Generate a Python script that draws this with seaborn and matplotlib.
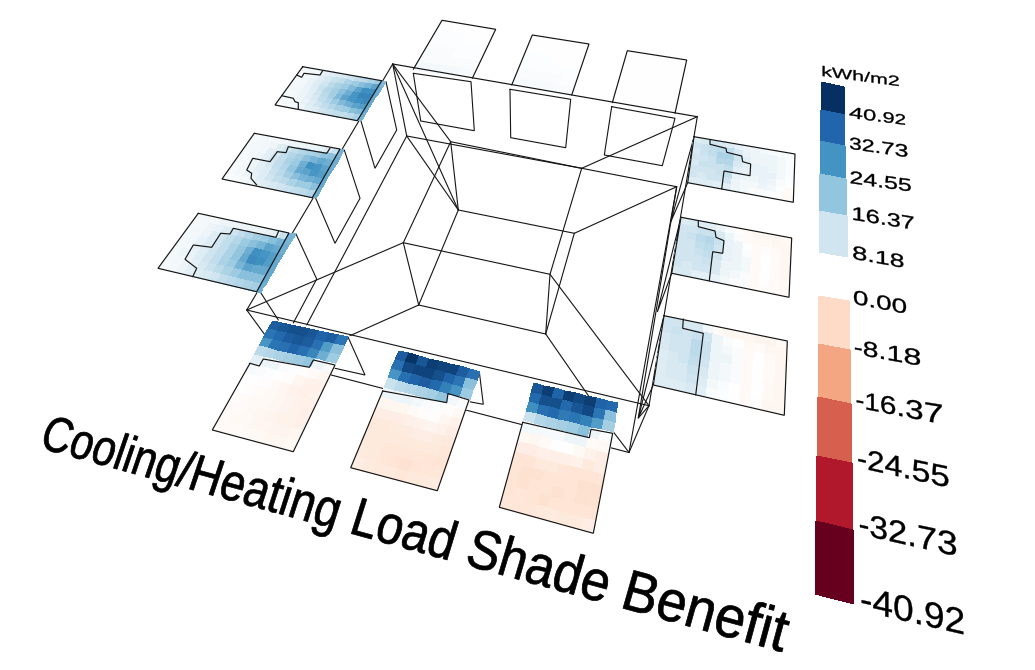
"""
Cooling/Heating load shade benefit drawn on a perspective view of a room.
Every panel is a seaborn heatmap that gets warped onto its quad in the picture.
"""

import numpy as np
import matplotlib
matplotlib.use("Agg")
import matplotlib.pyplot as plt
import seaborn as sns
from matplotlib.colors import LinearSegmentedColormap, ListedColormap
from matplotlib.font_manager import FontProperties
from matplotlib.patheffects import AbstractPathEffect
from matplotlib.path import Path
from matplotlib.textpath import TextPath
from matplotlib.transforms import IdentityTransform, Transform

# -----------------------------
# 1. Values (kWh/m2), row 0 is the row next to the wall
# -----------------------------
south_1 = [
    [34, 35, 36, 36, 35, 33, 34, 30],
    [30, 32, 34, 35, 34, 31, 23, 17],
    [24, 30, 31, 33, 31, 27, 20, 15],
    [11, 12, 13, 14, 15, 16, 3, 1.5],
    [5, 3, 3, 1, 0.5, -0.5, -1, -2],
    [1.5, 1, 0.5, 0, -0.5, -2, -3, -3],
    [0, 0, -0.5, -1, -2, -3, -3.5, -3],
    [0, -0.5, -1, -1.5, -2, -2.5, -3, -3.5],
    [-0.5, -1, -1.5, -1.5, -2, -2.5, -3, -3.5],
    [-1, -1, -1.5, -2, -2.5, -3, -3, -3.5],
    [-1, -1.5, -1.5, -2, -2, -2.5, -2.5, -2],
    [-1, -1, -1, -1.5, -1.5, -2, -2, -1.5],
]
south_2 = [
    [34, 40, 35, 39, 38, 38, 34, 31],
    [31, 37, 38, 38, 36, 33, 30, 17],
    [24, 31, 33, 34, 32, 28, 24, 15],
    [9, 11, 12, 13, 14, 16, 2.5, 1],
    [3, 3, 3.5, 2, 1, 0.5, -0.5, -1.5],
    [-2, -2, -2, -1, -0.5, -0.5, -2, -3],
    [-4, -4, -4, -3.5, -3, -2.5, -3, -4],
    [-5, -5, -4.5, -4.5, -4, -4, -4.5, -5],
    [-5, -5, -5, -5, -5, -5, -5, -5.5],
    [-5, -5, -5.5, -5.5, -5.5, -5.5, -6, -6],
    [-4.5, -5, -5.5, -6, -6.5, -6, -5.5, -5.5],
    [-4, -4.5, -5, -5, -5.5, -5, -5, -4.5],
]
south_3 = [
    [35, 39, 33, 39, 37, 39, 33, 32],
    [32, 36, 36, 32, 35, 37, 30, 17],
    [25, 31, 32, 29, 30, 28, 23, 14],
    [9, 12, 13, 14, 15, 17, 3, 0.5],
    [2, 2, 1.5, 1.5, 3, 3, -1, -1.5],
    [-1.5, -2, -1, 0, 0, -1.5, -3, -4],
    [-4, -4, -3.5, -3.5, -3.5, -3, -5, -4],
    [-6, -6, -5, -5, -5.5, -6, -6, -6],
    [-6, -6.5, -6.5, -6, -6, -6, -7, -7],
    [-6, -6.5, -6, -6, -6.5, -6, -7, -6.5],
    [-6, -5.5, -6, -6.5, -6, -6, -6, -6],
    [-5.5, -5.5, -5.5, -5, -4.5, -5, -5, -4],
]
west_1 = [
    [15, 22, 25, 27, 26, 23, 18, 13],
    [13, 19, 25, 27, 25, 22, 17, 11],
    [11, 17, 22, 24, 24, 20, 15, 10],
    [10, 15, 18, 20, 22, 18, 14, 10],
    [8, 13, 15, 17, 18, 15, 12, 9],
    [7, 10, 13, 14, 14, 12, 10, 8],
    [6, 9, 11, 12, 11, 10, 8, 6],
    [5, 7, 8, 9, 8, 7, 6, 5],
    [4, 5, 6, 6, 5, 5, 4, 3],
    [2.5, 3, 4, 4, 3.5, 3, 2.5, 2],
    [2, 2, 2.5, 2.5, 2.5, 2, 1.5, 1.5],
    [2, 1.5, 2, 2, 2, 1.5, 1.5, 1],
]
west_2 = [
    [9, 17, 20, 22, 23, 21, 17, 12],
    [6, 16, 21, 24, 24, 20, 15, 11],
    [4, 14, 19, 25, 22, 19, 15, 10],
    [3, 13, 17, 20, 21, 17, 13, 9],
    [3, 12, 14, 15, 16, 14, 11, 8],
    [3, 10, 12, 13, 12, 11, 10, 7],
    [3, 8, 10, 10, 10, 9, 8, 6],
    [2.5, 6, 7, 8, 7, 6, 6, 5],
    [2.5, 3, 5, 5, 5, 5, 4, 3],
    [2, 2.5, 2.5, 3, 3, 3, 3, 2],
    [2, 2, 2, 2, 2, 2.5, 2, 1.5],
    [1.5, 1.5, 2, 1.5, 1.5, 1.5, 1.5, 1],
]
west_3 = [
    [9, 19, 21, 23, 23, 21, 17, 14],
    [5, 17, 22, 24, 25, 21, 17, 13],
    [4, 15, 19, 25, 26, 22, 17, 12],
    [3, 14, 17, 20, 21, 19, 15, 11],
    [3, 12, 15, 16, 16, 15, 13, 10],
    [3, 10, 12, 13, 13, 13, 11, 8],
    [3, 8, 10, 10, 10, 10, 9, 7],
    [3, 6, 8, 8, 8, 8, 7, 6],
    [3, 4, 6, 6, 6, 6, 5, 5],
    [2, 3, 3, 4, 4, 4, 3.5, 3],
    [2, 2, 2.5, 2.5, 2.5, 3, 2.5, 2],
    [2, 1.5, 2, 2, 2, 2, 2, 1.5],
]
west_1_strip = [[18, 20, 21, 21, 21, 21, 20, 19]]
west_2_strip = [[19, 20, 20, 21, 21, 21, 20, 20]]
west_3_strip = [[19, 20, 21, 21, 21, 21, 20, 20]]
east_1 = [
    [6, 8, 7, 8, 7, 8, 8, 6],
    [7, 9, 9, 8, 9, 8, 7, 6],
    [8, 10, 10, 9, 9, 8, 8, 6],
    [7, 11, 13, 12, 9, 9, 8, 5],
    [6, 10, 13, 12, 10, 10, 8, 5],
    [4, 7, 8, 7, 5, 4, 3, 3],
    [3, 4, 5, 5, 4, 3, 2, 2],
    [3, 3, 3, 4, 4, 3, 2, 1],
    [2, 3, 3, 4, 4, 4, 3, 1],
    [1.5, 3, 3, 3, 4, 3, 2, 0.5],
    [1, 2, 2, 2, 2, 1, 0.5, -0.5],
    [1, 1, 1, 1, 0.5, 0, -1, -1.5],
]
east_2 = [
    [6, 8, 8, 8, 8, 8, 8, 7],
    [7, 8, 9, 8, 8, 8, 7, 7],
    [6, 9, 11, 10, 9, 8, 8, 5],
    [5, 9, 12, 11, 10, 9, 8, 5],
    [3, 7, 9, 8, 8, 7, 7, 4],
    [1, 3, 4, 4, 4, 3, 3, 2],
    [-0.5, 1, 3, 3, 3, 3, 2, 1],
    [-1, -1, 0, 1, 2, 2, 1, 1],
    [-2, -1.5, -1, -1, -1, -1, -1, -1],
    [-2, -1.5, -0.5, 0, 0, 0, 0, -0.5],
    [-2, -2, -1, -1, -1, -1, -1, -1],
    [-1.5, -2, -2, -2, -2, -2, -1.5, -1.5],
]
east_3 = [
    [8, 8, 7, 7, 6, 6, 6, 6],
    [8, 9, 8, 8, 7, 7, 7, 6],
    [7, 8, 8, 8, 8, 7, 7, 6],
    [7, 9, 11, 11, 10, 9, 8, 7],
    [2, 8, 9, 9, 8, 7, 6, 5],
    [-1, 3, 3, 3, 3, 3, 2, 1],
    [-2, 1, 2, 3, 2, 2, 1, 0.5],
    [-2, 0, 1, 1, 1, 1, 0, 0],
    [-2, -1.5, -1, -1, -1, -1, -1, -1],
    [-2.5, -1, 0, 0, 0, 0, 0, -0.5],
    [-2.5, -2, -1, -1, -1, -1.5, -1.5, -2],
    [-1.5, -2, -2, -2, -2, -2, -2, -2],
]
north_1 = [
    [2, 2, 2, 1.5],
    [1, 1, 1, 1],
    [1, 1, 0.5, 0.5],
    [0.5, 0.5, 0.5, 0.5],
    [0.5, 0.5, 0, 0],
    [0.5, 0, 0, 0],
]
north_2 = [
    [1.5, 1.5, 1.5, 1],
    [1, 1, 1, 0.5],
    [0.5, 0.5, 0.5, 0.5],
    [0.5, 0.5, 0, 0],
    [0, 0, 0, 0],
    [0, 0, 0, 0],
]
north_3 = [
    [0, 0, 0, 0],
    [0, -0.2, 0, 0],
    [0, 0, -0.2, 0],
    [0, 0, 0, 0],
    [0, 0, 0, 0],
    [0, 0, 0, 0],
]

blue_labels = ["40.92", "32.73", "24.55", "16.37", "8.18"]
red_labels = ["0.00", "-8.18", "-16.37", "-24.55", "-32.73", "-40.92"]
blue_steps = ["#053061", "#2166AC", "#4393C3", "#92C5DE", "#D1E5F0"]
red_steps = ["#FDDBC7", "#F4A582", "#D6604D", "#B2182B", "#67001F"]
unit_label = "kWh/m2"
title_label = "Cooling/Heating Load Shade Benefit"
scale_max = 40.92

# -----------------------------
# 2. Layout in picture pixels
# -----------------------------
# quads: (0,0) corner, (cols,0) corner, (cols,rows) corner, (0,rows) corner
panels = [
    (south_1, [(272.7, 320.7), (348.3, 337.3), (293.3, 451.7), (212.3, 430)]),
    (south_2, [(399, 350.7), (480, 371.7), (437.3, 490.7), (350.7, 467.7)]),
    (south_3, [(534, 383.3), (618.3, 403.3), (593.3, 533.3), (499.3, 507.3)]),
    (west_1, [(381.7, 80.7), (357.3, 120.7), (275, 105), (302.7, 66.7)]),
    (west_2, [(340, 149), (312.3, 197.7), (222, 179), (254.3, 133.3)]),
    (west_3, [(289, 233), (256.7, 291.7), (158, 268.3), (198.3, 213.3)]),
    (west_1_strip, [(386, 81.7), (361, 121.2), (357.3, 120.7), (381.7, 80.7)]),
    (west_2_strip, [(344.3, 150), (315.7, 198.3), (312.3, 197.7), (340, 149)]),
    (west_3_strip, [(296, 234), (260.7, 292.7), (256.7, 291.7), (289, 233)]),
    (east_1, [(694, 136.7), (687.7, 182.7), (793.3, 202.3), (795, 154)]),
    (east_2, [(681, 217.3), (671.7, 273.3), (789, 297.3), (791.7, 238)]),
    (east_3, [(664, 315.7), (653.3, 385), (784.3, 415.3), (787.3, 341)]),
    (north_1, [(413.3, 69.3), (472.3, 78.3), (495.7, 29.3), (442, 20.3)]),
    (north_2, [(511.7, 85), (571.7, 95), (589, 44), (532.3, 35)]),
    (north_3, [(612.3, 102.7), (675, 113.3), (686.7, 60), (627.3, 50.7)]),
]

corner_a, corner_b, corner_c, corner_d = (392.7, 64), (697.3, 116.7), (246.7, 310), (649, 405.7)
mid_a, mid_b, mid_c = (406.7, 136), (450.7, 141.7), (581.7, 168.3)
ceil_1, ceil_2, ceil_3 = (403.3, 242.7), (418.7, 305), (458.3, 210)
ceil_4, ceil_5, ceil_6 = (574.3, 233.3), (550, 274.3), (545.7, 334)
side_1, side_2, floor_end = (676.7, 186.7), (638.3, 418), (629, 452.5)

panel_lines = [
    [corner_a, corner_b],
    # south
    [(250, 363.3), (212.3, 430), (293.3, 451.7), (335, 365), (313.3, 360), (309.3, 367.3),
     (263.3, 359), (259.3, 366), (250, 363.3)],
    [(382.7, 391), (350.7, 467.7), (437.3, 490.7), (469, 400), (448, 393.5), (446.7, 402.6), (382.7, 391)],
    [(522.7, 422.3), (499.3, 507.3), (593.3, 533.3), (612.7, 433.3), (591, 429.3), (589.3, 437.7), (522.7, 422.3)],
    # west
    [(302.7, 66.7), (381.7, 80.7), (357.3, 120.7), (275, 105), (302.7, 66.7)],
    [(296.7, 75), (301.7, 77.3), (304, 73.3), (320, 75), (322.7, 70.7)],
    [(281.7, 95.7), (293.3, 98.3), (295, 101.7), (298.3, 102.7), (298.3, 109.3)],
    [(254.3, 133.3), (340, 149), (312.3, 197.7), (222, 179), (254.3, 133.3)],
    [(256.7, 185), (251, 178.3), (251.7, 173.3), (246.7, 170), (252.7, 158.3), (270, 161.7),
     (277.3, 151.7), (286, 152.7), (288.3, 146.7), (326.7, 153.3), (330, 148.3)],
    [(198.3, 213.3), (289, 233), (256.7, 291.7), (158, 268.3), (198.3, 213.3)],
    [(192.7, 276.7), (196.7, 268.3), (185, 259.3), (193.3, 245), (211.7, 247.3), (220.7, 233.3),
     (230, 234), (233.3, 228.3), (276, 237.3), (278.7, 231)],
    # east
    [(694, 136.7), (795, 154), (793.3, 202.3), (687.7, 182.7), (694, 136.7)],
    [(710, 140), (710, 144.3), (726, 148.3), (726.7, 152.3), (741.7, 156), (742.7, 161.7),
     (750.7, 164), (750, 175.7), (724, 171), (721.7, 189)],
    [(681, 217.3), (791.7, 238), (789, 297.3), (671.7, 273.3), (681, 217.3)],
    [(698.3, 221), (698.3, 226.7), (715, 231), (716, 237.3), (724, 240.7), (722.7, 253.3),
     (712.7, 251.7), (709.3, 280.7)],
    [(664, 315.7), (787.3, 341), (784.3, 415.3), (653.3, 385), (664, 315.7)],
    [(683.3, 319), (682.7, 328.3), (703.3, 333.3), (695.7, 395)],
    # north
    [(413.3, 69.3), (442, 20.3), (495.7, 29.3), (472.3, 78.3)],
    [(511.7, 85), (532.3, 35), (589, 44), (571.7, 95)],
    [(612.3, 102.7), (627.3, 50.7), (686.7, 60), (675, 113.3)],
]

room_lines = [
    [corner_a, corner_c], [corner_c, corner_d], [corner_b, corner_d],
    [corner_a, mid_a], [corner_a, mid_b], [corner_a, ceil_3], [mid_a, ceil_3],
    [mid_b, ceil_3], [mid_b, ceil_1], [mid_a, mid_c], [mid_b, mid_c], [mid_c, corner_b],
    [mid_a, (306.7, 325)], [corner_c, ceil_1], [ceil_1, ceil_2], [ceil_2, ceil_3],
    [ceil_2, (350, 335.7)], [ceil_3, ceil_4], [ceil_1, ceil_5], [ceil_2, ceil_6],
    [mid_c, side_1], [ceil_4, side_1], [mid_c, ceil_5], [ceil_4, ceil_6], [ceil_5, ceil_6],
    [ceil_5, corner_d], [ceil_6, (590, 398)], [side_1, side_2], [side_2, corner_d],
    [corner_c, (265, 335)], [(262, 357), floor_end], [floor_end, corner_d],
    [floor_end, side_1], [floor_end, (612.7, 431)],
    # window reveals west
    [(386, 81.7), (396.7, 130), (375, 168.3), (361, 121.2)],
    [(344.3, 150), (360, 198.3), (335, 243.3), (315.7, 198.3)],
    [(296, 234), (316.7, 279), (293.3, 323)], [(260.7, 292.7), (278.3, 320)],
    # window reveals south
    [(348, 337), (365, 375), (335, 368.3)],
    [(479.3, 371.7), (483.3, 404.3), (469.3, 401.7)],
    # window reveals east
    [(694, 137), (670.7, 222), (687.7, 182.7)],
    [(681, 217.3), (657.3, 312), (671.7, 273.3)],
    [(664, 315.7), side_2, (653.3, 385)],
    # window reveals north
    [(413.3, 73.3), (420.7, 121), (474.3, 130.7), (471, 81.7), (413.3, 73.3)],
    [(510, 89.3), (510.7, 137.7), (565.7, 147.7), (570.7, 99.3), (510, 89.3)],
    [(611.7, 106.7), (604.3, 155), (662.3, 165.7), (675, 118.3), (611.7, 106.7)],
]

blue_bar_quad = [(821, 82), (844, 87), (848, 257), (819, 252)]
red_bar_quad = [(819, 296), (849, 301), (854, 604), (815, 594)]

# text quads: base left, base right, top right, top left
blue_label_quads = [
    [(849.3, 117.8), (905, 124.8), (905, 114.5), (850, 106.2)],
    [(850, 148.8), (907.3, 157.2), (907.3, 144.5), (850, 136.8)],
    [(850.7, 183.2), (910.7, 191.5), (910.7, 178.8), (850.7, 170.5)],
    [(853.3, 219.8), (913.3, 229.5), (913.3, 216.2), (853.3, 206.2)],
    [(853.3, 258.8), (903.3, 267.8), (903.3, 254.5), (853.3, 245.2)],
]
red_label_quads = [
    [(854, 303.8), (906, 313.8), (906, 299.5), (854, 289.5)],
    [(855, 354), (920, 365.7), (920, 349.2), (855, 339.2)],
    [(856.7, 407.5), (941.7, 424), (941.7, 404), (856.7, 390.7)],
    [(858.3, 467.5), (948.3, 487.5), (948.3, 465.7), (858.3, 447.3)],
    [(860, 534.3), (956, 556), (956, 532), (860, 512)],
    [(861.7, 611), (963.3, 634.3), (963.3, 608.5), (861.7, 585.2)],
]
unit_quad = [(822.7, 76), (898.7, 86), (898.7, 76), (822.7, 66)]
title_quad = [(40, 448), (782, 652), (793, 611), (52, 414)]

# -----------------------------
# 3. Warping helpers
# -----------------------------
def homography(src, dst):
    rows, rhs = [], []
    for (x, y), (u, v) in zip(src, dst):
        rows.append([x, y, 1, 0, 0, 0, -u * x, -u * y])
        rows.append([0, 0, 0, x, y, 1, -v * x, -v * y])
        rhs += [u, v]
    return np.append(np.linalg.solve(np.array(rows, float), np.array(rhs, float)), 1).reshape(3, 3)


def apply_homography(h, xy):
    xy = np.asarray(xy, float)
    out = np.column_stack([xy, np.ones(len(xy))]) @ h.T
    return out[:, :2] / out[:, 2:]


class QuadWarp(Transform):
    input_dims = 2
    output_dims = 2

    def __init__(self, h):
        super().__init__()
        self.h = h

    def transform_non_affine(self, values):
        return apply_homography(self.h, values)


class TextWarp(AbstractPathEffect):
    # real text, its glyph outlines bent the way the picture bends them
    def __init__(self, h, stroke):
        super().__init__()
        self.h = h
        self.stroke = stroke

    def draw_path(self, renderer, gc, tpath, affine, rgbFace=None):
        pts = apply_homography(self.h, affine.transform(tpath.vertices))
        gc0 = renderer.new_gc()
        gc0.copy_properties(gc)
        gc0.set_linewidth(self.stroke)
        gc0.set_foreground("black")
        renderer.draw_path(gc0, Path(pts, tpath.codes), IdentityTransform(), rgbFace)
        gc0.restore()


# -----------------------------
# 4. Draw
# -----------------------------
sns.set_theme(style="white")
plt.rcParams["font.family"] = "Liberation Sans"

width_px, height_px, dpi = 1035, 670, 100
fig = plt.figure(figsize=(width_px / dpi, height_px / dpi), dpi=dpi)
ax = fig.add_axes([0, 0, 1, 1])
line_color = "#151515"
# same stops as the legend, with pure white at zero
rdbu = LinearSegmentedColormap.from_list("rdbu_white", red_steps[::-1] + ["#FFFFFF"] + blue_steps[::-1])


def draw_heat(values, quad, **kws):
    data = np.array(values, float)
    n_rows, n_cols = data.shape
    sns.heatmap(data, ax=ax, cbar=False, xticklabels=False, yticklabels=False, **kws)
    mesh = ax.collections[-1]
    h = homography([(0, 0), (n_cols, 0), (n_cols, n_rows), (0, n_rows)], quad)
    mesh.set_transform(QuadWarp(h) + ax.transData)
    mesh.set_zorder(2)


def draw_warped_text(label, quad, flat_scale=1.0, stroke=0.25):
    base_l, base_r, top_r, top_l = [np.array(p, float) for p in quad]
    cap = flat_scale * (np.linalg.norm(top_l - base_l) + np.linalg.norm(top_r - base_r)) / 2
    size_pt = (cap / 0.716) * 72 / dpi
    ext = TextPath((0, 0), label, size=size_pt * dpi / 72,
                   prop=FontProperties(family="Liberation Sans")).get_extents()
    d = base_r - base_l
    angle = np.arctan2(d[1], d[0])
    along = np.array([np.cos(angle), np.sin(angle)])
    up = np.array([np.sin(angle), -np.cos(angle)])
    anchor = base_l - along * ext.x0
    flat = [base_l, base_l + along * ext.width, base_l + along * ext.width + up * cap, base_l + up * cap]
    to_disp = lambda p: (p[0], height_px - p[1])
    h = homography([to_disp(p) for p in flat], [to_disp(p) for p in quad])
    ax.text(anchor[0], anchor[1], label, fontsize=size_pt, color="black", zorder=4,
            rotation=-np.degrees(angle), rotation_mode="anchor", ha="left", va="baseline",
            path_effects=[TextWarp(h, stroke)])


for line in room_lines:
    xs, ys = zip(*line)
    ax.plot(xs, ys, color=line_color, lw=0.8, zorder=1, solid_joinstyle="miter")

for values, quad in panels:
    draw_heat(values, quad, cmap=rdbu, vmin=-scale_max, vmax=scale_max)

for line in panel_lines:
    xs, ys = zip(*line)
    ax.plot(xs, ys, color=line_color, lw=0.85, zorder=3, solid_joinstyle="miter")

draw_heat(np.arange(5).reshape(-1, 1), blue_bar_quad, cmap=ListedColormap(blue_steps), vmin=0, vmax=4)
draw_heat(np.arange(5).reshape(-1, 1), red_bar_quad, cmap=ListedColormap(red_steps), vmin=0, vmax=4)

for label, quad in zip(blue_labels, blue_label_quads):
    draw_warped_text(label, quad)
for label, quad in zip(red_labels, red_label_quads):
    draw_warped_text(label, quad)
draw_warped_text(unit_label, unit_quad)
draw_warped_text(title_label, title_quad, flat_scale=0.9, stroke=0.5)

ax.set_xlim(0, width_px)
ax.set_ylim(height_px, 0)
ax.axis("off")

fig.savefig("out.png", dpi=dpi, facecolor="white")
